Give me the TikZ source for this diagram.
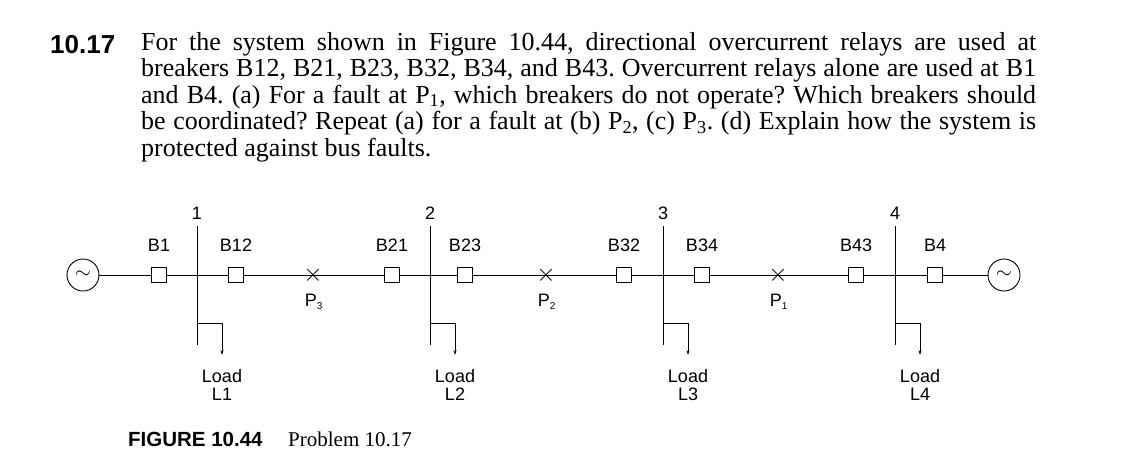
\documentclass[tikz,border=0pt]{standalone}
\usetikzlibrary{arrows.meta}
\usepackage{fontspec}
\setmainfont{Liberation Serif}
\setsansfont{Liberation Sans}
\begin{document}
\begin{tikzpicture}[x=1pt,y=-1pt,
  brk/.style={draw,fill=white,minimum size=15pt,inner sep=0pt,line width=0.9pt},
  gen/.style={draw,circle,minimum size=32pt,inner sep=0pt,line width=0.9pt,font=\sffamily\fontsize{20}{20}\selectfont},
  lbl/.style={font=\sffamily\fontsize{18}{20}\selectfont,inner sep=0pt},
  ln/.style={line width=0.9pt}]
\useasboundingbox (0,0) rectangle (1123,463);
\node[anchor=base west,inner sep=0pt,font=\sffamily\bfseries\fontsize{26}{30}\selectfont] (num) at (50,53) {10.17};
\node[anchor=north west,inner sep=0pt,text width=895pt,align=justify,font=\frenchspacing\fontsize{26}{26.5}\selectfont] (txt) at (141,32)
{For the system shown in Figure 10.44, directional overcurrent relays are used at\linebreak breakers B12, B21, B23, B32, B34, and B43. Overcurrent relays alone are used at B1\linebreak and B4. (a) For a fault at P\textsubscript{1}, which breakers do not operate? Which breakers should\linebreak be coordinated? Repeat (a) for a fault at (b) P\textsubscript{2}, (c) P\textsubscript{3}. (d) Explain how the system is\linebreak protected against bus faults.};
% generators
\node[gen] (g1) at (83,275) {$\sim$};
\node[gen] (g4) at (1004,275) {$\sim$};
\draw[ln] (g1) -- (g4);
% buses
\foreach \n/\x in {1/197,2/430,3/663,4/895}{
  \coordinate (bt\n) at (\x,226);
  \coordinate (bb\n) at (\x,345);
  \draw[ln] (bt\n) -- (bb\n);
  \node[lbl] (bn\n) at (\x,213) {\n};
  \coordinate (lc\n) at (\x,323);
  \coordinate (ld\n) at (\x+25,323);
  \coordinate (le\n) at (\x+25,355);
  \draw[ln,-{Stealth[length=5pt,width=3pt]}] (lc\n) -- (ld\n) -- (le\n);
  \node[lbl,align=center] (lt\n) at (\x+25,385) {Load\\[-2pt]L\n};
}
% breakers
\foreach \nm/\x in {B1/159,B12/236,B21/392,B23/465,B32/624,B34/702,B43/856,B4/935}{
  \node[brk] (\nm) at (\x,275) {};
  \node[lbl] (l\nm) at (\x,245) {\nm};
}
% faults
\foreach \p/\x in {3/313,2/546,1/778}{
  \node[inner sep=0pt,font=\fontsize{24}{24}\selectfont] (P\p) at (\x,275) {$\times$};
  \node[lbl] (lP\p) at (\x+1,302) {P\textsubscript{\fontsize{10}{10}\selectfont\p}};
}
\node[anchor=base west,inner sep=0pt,font=\sffamily\bfseries\fontsize{20.5}{24}\selectfont] (fig) at (128,446) {FIGURE 10.44};
\node[anchor=base west,inner sep=0pt,font=\fontsize{21}{24}\selectfont] (prob) at (288,446) {Problem 10.17};
\end{tikzpicture}
\end{document}
